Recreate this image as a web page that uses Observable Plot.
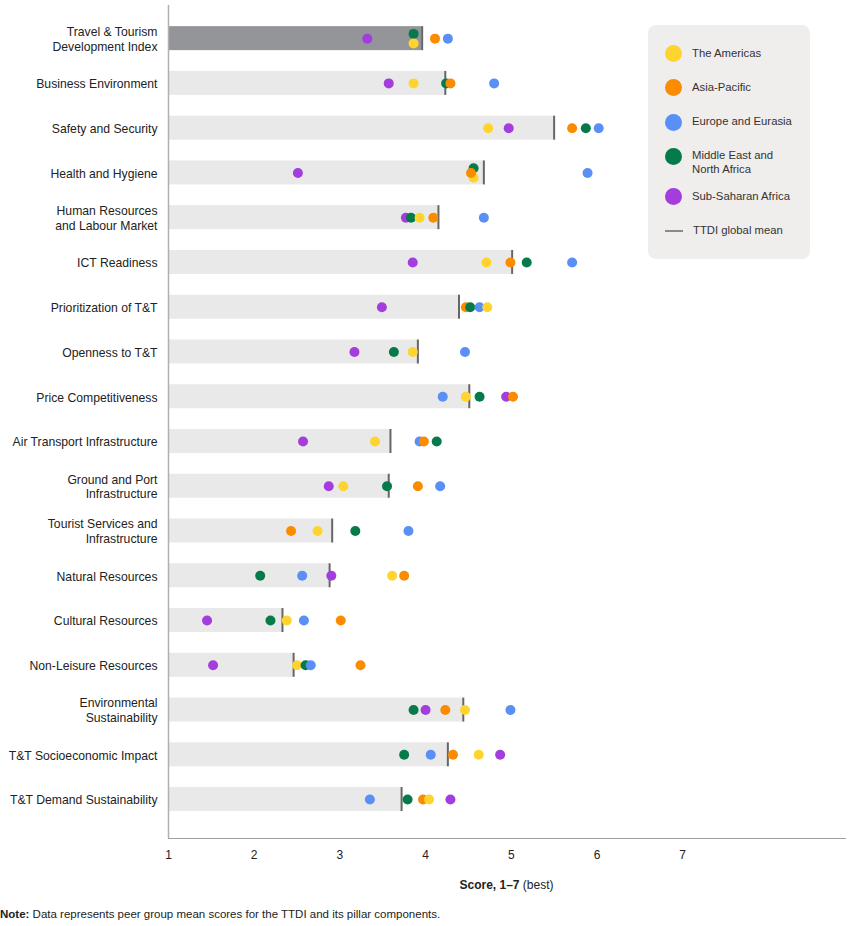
<!DOCTYPE html>
<html>
<head>
<meta charset="utf-8">
<script src="https://cdn.jsdelivr.net/npm/d3@7"></script>
<script src="https://cdn.jsdelivr.net/npm/@observablehq/plot@0.6"></script>
<style>
  body { margin: 0; background: #fff; font-family: "Liberation Sans", Arial, sans-serif; color: #222; }
  #wrap { position: relative; width: 850px; height: 926px; overflow: hidden; }
  #chart svg { display: block; }
  .legend { position: absolute; left: 648px; top: 25px; width: 162px; height: 234px;
            background: #efeeed; border-radius: 8px; }
  .legend .row { position: absolute; left: 17px; display: flex; align-items: flex-start; }
  .legend .sw { width: 17px; height: 17px; border-radius: 50%; flex: none; }
  .legend .ln { width: 18px; height: 2px; background: #8a8a8a; flex: none; margin-top: 7.5px; }
  .legend .tx { margin-left: 10px; font-size: 11.3px; line-height: 13.5px; color: #333; padding-top: 1.5px; }
  .xtitle { position: absolute; left: 168px; width: 677px; top: 878px; text-align: center; font-size: 12px; color: #222; }
  .note { position: absolute; left: 0; top: 908px; font-size: 11.5px; color: #222; }
</style>
</head>
<body>
<div id="wrap">
  <div id="chart"></div>
  <div class="legend" id="legend"></div>
  <div class="xtitle"><b>Score, 1–7</b> (best)</div>
  <div class="note"><b>Note:</b> Data represents peer group mean scores for the TTDI and its pillar components.</div>
</div>
<script>
// Pillars, top to bottom
const pillars = [
  "Travel & Tourism Development Index",
  "Business Environment",
  "Safety and Security",
  "Health and Hygiene",
  "Human Resources and Labour Market",
  "ICT Readiness",
  "Prioritization of T&T",
  "Openness to T&T",
  "Price Competitiveness",
  "Air Transport Infrastructure",
  "Ground and Port Infrastructure",
  "Tourist Services and Infrastructure",
  "Natural Resources",
  "Cultural Resources",
  "Non-Leisure Resources",
  "Environmental Sustainability",
  "T&T Socioeconomic Impact",
  "T&T Demand Sustainability"
];

// Axis labels for the pillars (with line breaks)
const pillarLabels = [
  "Travel & Tourism\nDevelopment Index",
  "Business Environment",
  "Safety and Security",
  "Health and Hygiene",
  "Human Resources\nand Labour Market",
  "ICT Readiness",
  "Prioritization of T&T",
  "Openness to T&T",
  "Price Competitiveness",
  "Air Transport Infrastructure",
  "Ground and Port\nInfrastructure",
  "Tourist Services and\nInfrastructure",
  "Natural Resources",
  "Cultural Resources",
  "Non-Leisure Resources",
  "Environmental\nSustainability",
  "T&T Socioeconomic Impact",
  "T&T Demand Sustainability"
];

// TTDI global mean per pillar
const globalMean = [3.96, 4.23, 5.50, 4.68, 4.15, 5.01, 4.39, 3.91, 4.51, 3.59, 3.57, 2.91, 2.88, 2.33, 2.46, 4.44, 4.26, 3.72];

// Peer group means per pillar (null = not shown)
const americas    = [3.86, 3.86, 4.73, 4.56, 3.93, 4.71, 4.72, 3.85, 4.47, 3.41, 3.04, 2.74, 3.61, 2.38, 2.50, 4.46, 4.62, 4.04];
const asiaPacific = [4.11, 4.29, 5.71, 4.53, 4.09, 4.99, 4.47, null, 5.02, 3.98, 3.91, 2.43, 3.75, 3.01, 3.24, 4.23, 4.32, 3.97];
const europe      = [4.26, 4.80, 6.02, 5.89, 4.68, 5.71, 4.63, 4.46, 4.20, 3.93, 4.17, 3.80, 2.56, 2.58, 2.66, 4.99, 4.06, 3.35];
const mena        = [3.86, 4.24, 5.87, 4.56, 3.83, 5.18, 4.52, 3.63, 4.63, 4.13, 3.55, 3.18, 2.07, 2.19, 2.60, 3.86, 3.75, 3.79];
const ssa         = [3.32, 3.57, 4.97, 2.51, 3.77, 3.85, 3.49, 3.17, 4.94, 2.57, 2.87, null, 2.90, 1.45, 1.52, 4.00, 4.87, 4.29];

const regions = ["The Americas", "Asia-Pacific", "Europe and Eurasia", "Middle East and\nNorth Africa", "Sub-Saharan Africa"];
const regionColors = ["#ffd42e", "#fb8c00", "#5a8ff5", "#077a4b", "#a33ddd"];
const meanLabel = "TTDI global mean";

const xTicks = [1, 2, 3, 4, 5, 6, 7];

// ---- tables built from the arrays above ----
const series = [americas, asiaPacific, europe, mena, ssa];
const means = pillars.map((p, i) => ({pillar: p, mean: globalMean[i], index: i}));
const labelOf = new Map(pillars.map((p, i) => [p, pillarLabels[i]]));

const points = [];
pillars.forEach((p, i) => {
  regions.forEach((r, k) => {
    const v = series[k][i];
    if (v != null) points.push({pillar: p, region: r, value: v, offset: 0});
  });
});

// Nearly coincident dots within a pillar are fanned out vertically
const CLOSE = 0.04, SPREAD = 9.5;
for (const [, pts] of d3.group(points, d => d.pillar)) {
  const sorted = pts.slice().sort((a, b) => a.value - b.value);
  const clusters = [];
  for (const p of sorted) {
    const last = clusters[clusters.length - 1];
    if (last && p.value - last[last.length - 1].value < CLOSE) last.push(p);
    else clusters.push([p]);
  }
  for (const c of clusters) {
    if (c.length < 2) continue;
    c.sort((a, b) => regions.indexOf(b.region) - regions.indexOf(a.region));
    c.forEach((p, k) => { p.offset = (k / (c.length - 1) - 0.5) * SPREAD; });
  }
}
points.sort((a, b) => a.value - b.value);
const offsets = Array.from(new Set(points.map(d => d.offset))).sort((a, b) => (a === 0) - (b === 0) || a - b);

const dotMarks = offsets.map(off =>
  Plot.dot(points.filter(d => d.offset === off), {
    x: "value", y: "pillar", fill: "region", r: 5, dy: off
  })
);

const chart = Plot.plot({
  width: 850,
  height: 870,
  marginLeft: 168,
  marginRight: 5,
  marginTop: 5,
  marginBottom: 32,
  style: {fontFamily: '"Liberation Sans", Arial, sans-serif', fontSize: "12px", color: "#222", background: "transparent"},
  x: {domain: [1, 8.9]},
  y: {domain: pillars, paddingInner: 0.464, paddingOuter: 0.537, align: 0.44, round: false},
  color: {domain: regions, range: regionColors},
  marks: [
    Plot.barX(means.filter(d => d.index > 0), {x1: xTicks[0], x2: "mean", y: "pillar", fill: "#e9e9e9"}),
    Plot.barX(means.filter(d => d.index === 0), {x1: xTicks[0], x2: "mean", y: "pillar", fill: "#939598"}),
    Plot.tickX(means, {x: "mean", y: "pillar", stroke: "#666", strokeWidth: 2}),
    Plot.ruleX([xTicks[0]], {stroke: "#b0b0b0", strokeWidth: 1.5}),
    Plot.frame({anchor: "bottom", stroke: "#a0a0a0"}),
    ...dotMarks,
    Plot.axisX({ticks: xTicks, tickSize: 0, tickPadding: 12, fontSize: 12, fill: "#222", label: null}),
    Plot.axisY({tickSize: 0, tickPadding: 11, fontSize: 12.2, fill: "#222", lineHeight: 1.22,
                tickFormat: d => labelOf.get(d), label: null})
  ]
});
document.getElementById("chart").appendChild(chart);

// Legend: peer groups plus the global mean marker
const legend = d3.select("#legend");
const rowTops = regions.map((r, i) => 20 + i * 34.3 + (i >= 4 ? 6 : 0));
regions.forEach((r, i) => {
  const row = legend.append("div").attr("class", "row").style("top", rowTops[i] + "px");
  row.append("div").attr("class", "sw").style("background", regionColors[i]);
  row.append("div").attr("class", "tx").html(r.replace("\n", "<br>"));
});
const meanRow = legend.append("div").attr("class", "row").style("top", (rowTops[4] + 34.3) + "px");
meanRow.append("div").attr("class", "ln");
meanRow.append("div").attr("class", "tx").text(meanLabel);
</script>
</body>
</html>
